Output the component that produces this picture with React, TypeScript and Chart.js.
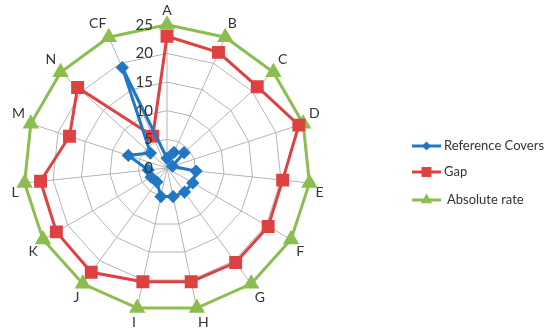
import React, { useEffect, useRef } from "react";
import { Chart, registerables } from "chart.js";

Chart.register(...registerables);

const categories = ["A", "B", "C", "D", "E", "F", "G", "H", "I", "J", "K", "L", "M", "N", "CF"];
const referenceCovers = [1.7, 3.0, 4.0, 1.0, 5.1, 5.2, 5.2, 5.1, 5.1, 3.0, 3.2, 3.3, 7.1, 3.9, 19.2];
const gap = [23.0, 22.1, 21.2, 24.2, 20.3, 20.4, 20.4, 20.3, 20.3, 22.5, 22.3, 22.2, 17.9, 21.0, 6.1];
const absoluteRate = [25, 25, 25, 25, 25, 25, 25, 25, 25, 25, 25, 25, 25, 25, 25];
const tickValues = [0, 5, 10, 15, 20, 25];

const seriesNames = ["Reference Covers", "Gap", "Absolute rate"];
const BLUE = "#2177c4";
const RED = "#de4141";
const GREEN = "#8bbd4f";
const FONT = "Lato, 'Open Sans', sans-serif";

const tickLabelPlugin = {
  id: "tickLabelPlugin",
  afterDatasetsDraw(chart: any) {
    const r = chart.scales.r;
    const ctx = chart.ctx;
    ctx.save();
    ctx.font = `15px ${FONT}`;
    ctx.fillStyle = "#333333";
    ctx.textAlign = "right";
    ctx.textBaseline = "middle";
    tickValues.forEach((v) => {
      const d = r.getDistanceFromCenterForValue(v);
      ctx.fillText(String(v), r.xCenter - 14, r.yCenter - d);
    });
    ctx.restore();
  },
};

function drawMarker(ctx: CanvasRenderingContext2D, style: string, rad: number, x: number, y: number) {
  ctx.beginPath();
  if (style === "rectRot") {
    ctx.moveTo(x, y - rad);
    ctx.lineTo(x + rad, y);
    ctx.lineTo(x, y + rad);
    ctx.lineTo(x - rad, y);
  } else if (style === "rect") {
    const s = Math.SQRT1_2 * rad;
    ctx.rect(x - s, y - s, 2 * s, 2 * s);
  } else {
    ctx.moveTo(x, y - rad);
    ctx.lineTo(x + rad * 0.866, y + rad * 0.5);
    ctx.lineTo(x - rad * 0.866, y + rad * 0.5);
  }
  ctx.closePath();
  ctx.fill();
}

const legendPlugin = {
  id: "customLegend",
  afterDraw(chart: any) {
    const ctx = chart.ctx;
    const rows = [146, 172, 200];
    ctx.save();
    chart.data.datasets.forEach((ds: any, i: number) => {
      const y = rows[i];
      ctx.strokeStyle = ds.borderColor;
      ctx.lineWidth = 3;
      ctx.beginPath();
      ctx.moveTo(412, y);
      ctx.lineTo(441, y);
      ctx.stroke();
      ctx.fillStyle = ds.borderColor;
      drawMarker(ctx, ds.pointStyle, ds.pointRadius, 426.5, y);
      ctx.font = `13px ${FONT}`;
      ctx.fillStyle = "#333333";
      ctx.textAlign = "left";
      ctx.textBaseline = "middle";
      ctx.fillText(seriesNames[i], i === 2 ? 447 : 444, y);
    });
    ctx.restore();
  },
};

export default function App() {
  const ref = useRef<HTMLCanvasElement | null>(null);
  useEffect(() => {
    if (!ref.current) return;
    const chart = new Chart(ref.current, {
      type: "radar",
      data: {
        labels: categories,
        datasets: [
          {
            label: seriesNames[0],
            data: referenceCovers,
            borderColor: BLUE,
            backgroundColor: BLUE,
            pointBackgroundColor: BLUE,
            pointBorderColor: BLUE,
            borderWidth: 3,
            pointStyle: "rectRot",
            pointRadius: 4.5,
            fill: false,
          },
          {
            label: seriesNames[1],
            data: gap,
            borderColor: RED,
            backgroundColor: RED,
            pointBackgroundColor: RED,
            pointBorderColor: RED,
            borderWidth: 3,
            pointStyle: "rect",
            pointRadius: 7,
            fill: false,
          },
          {
            label: seriesNames[2],
            data: absoluteRate,
            borderColor: GREEN,
            backgroundColor: GREEN,
            pointBackgroundColor: GREEN,
            pointBorderColor: GREEN,
            borderWidth: 3,
            pointStyle: "triangle",
            pointRadius: 6.5,
            fill: false,
          },
        ],
      },
      options: {
        responsive: false,
        animation: false,
        layout: { padding: { left: -4, right: 214, top: 0, bottom: -7 } },
        elements: { line: { tension: 0 } },
        plugins: {
          legend: { display: false },
          tooltip: { enabled: false },
        },
        scales: {
          r: {
            min: 0,
            max: 25,
            ticks: { stepSize: 5, display: false },
            grid: { color: "#b4b4b4", lineWidth: 1 },
            angleLines: { color: "#b4b4b4", lineWidth: 1 },
            pointLabels: {
              font: { size: 14, family: FONT },
              color: "#333333",
              padding: 6,
            },
          },
        },
      },
      plugins: [tickLabelPlugin, legendPlugin],
    });
    return () => chart.destroy();
  }, []);
  return (
    <div style={{ position: "fixed", left: 0, top: 0, width: 550, height: 333, background: "#fff" }}>
      <canvas ref={ref} width={550} height={333} style={{ width: 550, height: 333 }} />
    </div>
  );
}
